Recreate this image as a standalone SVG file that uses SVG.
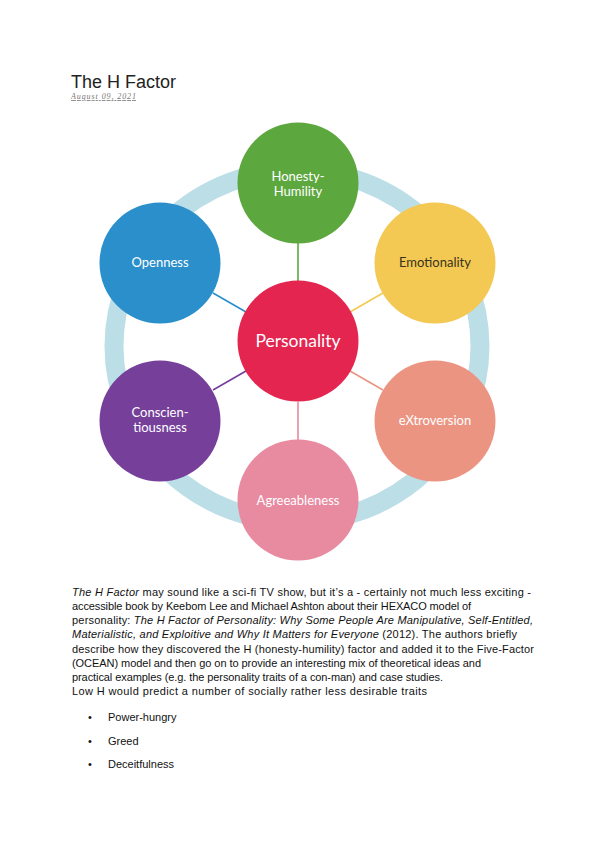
<svg xmlns="http://www.w3.org/2000/svg" width="595" height="842" viewBox="0 0 595 842">
<style>
.title{font-family:"Liberation Sans",Arial,sans-serif;font-size:18px;fill:#222}
.date{font-family:"Liberation Serif","Times New Roman",serif;font-style:italic;font-size:8px;fill:#777;text-decoration:underline}
.body{font-family:"Liberation Sans",Arial,sans-serif;font-size:11px;fill:#111}
.it{font-style:italic}
.lbl{font-family:Lato,"Open Sans","Noto Sans",sans-serif;font-size:13px;fill:#fff;text-anchor:middle}
.dark{fill:#3a3320}
.big{font-size:17.5px}
.ring{fill:none;stroke:#BCDFE7;stroke-width:19}
.con{stroke-width:1.6}
</style>
<rect width="595" height="842" fill="#fff"/>
<text class="title" x="71" y="88">The H Factor</text>
<text class="date" x="71" y="99" textLength="65">August 09, 2021</text>

<ellipse class="ring" cx="297" cy="346" rx="183" ry="176"/>

<g id="connectors">
<line class="con" x1="298" y1="243" x2="298" y2="281" stroke="#5DA73F"/>
<line class="con" x1="213" y1="293" x2="246" y2="312" stroke="#2A8FCB"/>
<line class="con" x1="350" y1="312" x2="383" y2="293" stroke="#F3C953"/>
<line class="con" x1="246" y1="371" x2="213" y2="390" stroke="#753F9A"/>
<line class="con" x1="350" y1="371" x2="383" y2="390" stroke="#EC9482"/>
<line class="con" x1="298" y1="402" x2="298" y2="440" stroke="#E88AA0"/>
</g>

<g id="honesty">
<circle cx="298" cy="183" r="60.5" fill="#5DA73F"/>
<text class="lbl" x="298" y="181">Honesty-</text>
<text class="lbl" x="298" y="196">Humility</text>
</g>
<g id="openness">
<circle cx="160" cy="263" r="60.5" fill="#2A8FCB"/>
<text class="lbl" x="160" y="267">Openness</text>
</g>
<g id="emotionality">
<circle cx="435" cy="263" r="60.5" fill="#F3C953"/>
<text class="lbl dark" x="435" y="267">Emotionality</text>
</g>
<g id="conscientiousness">
<circle cx="160" cy="421" r="60.5" fill="#753F9A"/>
<text class="lbl" x="160" y="417">Conscien-</text>
<text class="lbl" x="160" y="432">tiousness</text>
</g>
<g id="extroversion">
<circle cx="435" cy="421" r="60.5" fill="#EC9482"/>
<text class="lbl" x="435" y="425">eXtroversion</text>
</g>
<g id="agreeableness">
<circle cx="298" cy="500" r="60.5" fill="#E88AA0"/>
<text class="lbl" x="298" y="505">Agreeableness</text>
</g>
<g id="personality">
<circle cx="298" cy="341" r="60.5" fill="#E3254F"/>
<text class="lbl big" x="298" y="347">Personality</text>
</g>

<text class="body" x="72" y="596" textLength="459"><tspan class="it">The H Factor</tspan> may sound like a sci-fi TV show, but it’s a  - certainly not much less exciting -</text>
<text class="body" x="72" y="610" textLength="399">accessible book by Keebom Lee and Michael Ashton about their HEXACO model of</text>
<text class="body" x="72" y="624" textLength="461">personality:  <tspan class="it">The H Factor of Personality: Why Some People Are Manipulative, Self-Entitled,</tspan></text>
<text class="body" x="72" y="638" textLength="445"><tspan class="it">Materialistic, and Exploitive and Why It Matters for Everyone</tspan> (2012). The authors briefly</text>
<text class="body" x="72" y="653" textLength="462">describe how they discovered the H (honesty-humility) factor and added it to the Five-Factor</text>
<text class="body" x="72" y="667" textLength="409">(OCEAN) model and then go on to provide an interesting mix of theoretical ideas and</text>
<text class="body" x="72" y="681" textLength="371">practical examples (e.g. the personality traits of a con-man) and case studies.</text>
<text class="body" x="72" y="695" textLength="355">Low H would predict a number of socially rather less desirable traits</text>

<text class="body" x="88" y="721">•</text>
<text class="body" x="108" y="721">Power-hungry</text>
<text class="body" x="88" y="745">•</text>
<text class="body" x="108" y="745">Greed</text>
<text class="body" x="88" y="768">•</text>
<text class="body" x="108" y="768">Deceitfulness</text>
</svg>
